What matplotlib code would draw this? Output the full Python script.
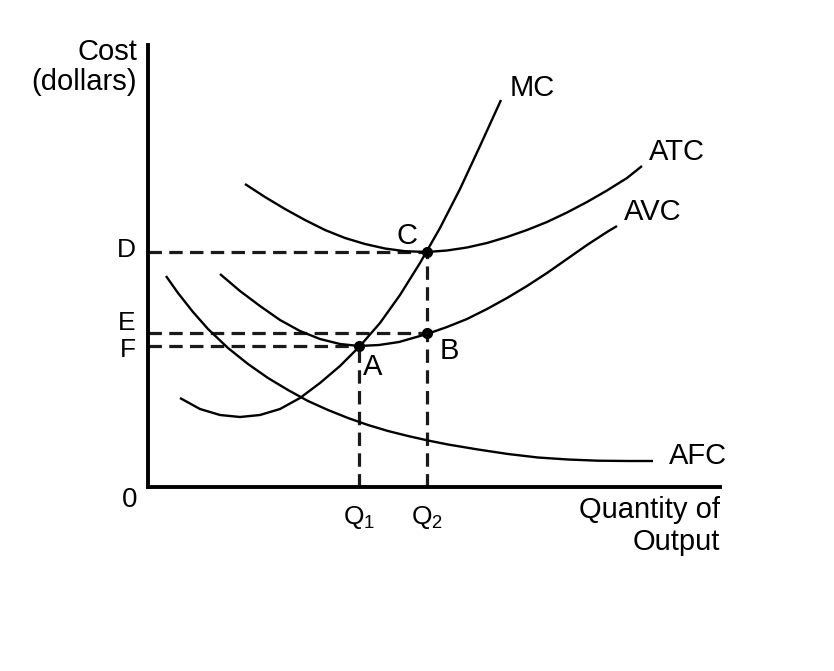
import matplotlib
matplotlib.use('Agg')
import matplotlib.pyplot as plt

plt.rcParams['font.family'] = ['Liberation Sans', 'DejaVu Sans']
plt.rcParams['mathtext.fontset'] = 'custom'
plt.rcParams['mathtext.rm'] = 'Liberation Sans'

# cost curves (x = quantity, y = cost, arbitrary units)
mc_x = [32, 52, 72, 92, 112, 132, 152, 172, 192, 212, 232, 252, 272, 292, 312, 332, 353]
mc_y = [89, 78, 72, 70, 72, 78, 89, 104, 121, 141, 164, 192, 224, 259, 298, 341, 387]

atc_x = [97, 117, 137, 157, 177, 197, 217, 237, 257, 279, 299, 319, 339, 359, 379,
         399, 419, 439, 459, 479, 494]
atc_y = [303, 290, 278, 267, 257, 249, 243, 238.5, 235.8, 235, 236.5, 239.5, 244, 250,
         257, 265, 274.5, 285, 296.5, 309, 321]

avc_x = [72, 92, 112, 132, 152, 172, 192, 211, 231, 251, 279, 299, 319, 339, 359, 379,
         399, 419, 439, 459, 469]
avc_y = [213, 196, 181, 167, 156, 148, 143, 141, 142, 145, 153, 160, 168, 178, 189, 201,
         214, 228, 242, 255, 261]

afc_x = [18, 30, 45, 60, 80, 100, 120, 140, 160, 180, 200, 220, 240, 260, 280, 300, 330,
         360, 390, 420, 450, 480, 505]
afc_y = [211, 194, 175, 158, 139, 123, 109, 97, 86, 77, 69, 62, 56, 51, 46.5, 42.5, 37.5,
         33, 29.5, 27.5, 26.3, 26, 26]

# key points
q1, q2 = 211, 279
cost_d, cost_e, cost_f = 235, 154, 141
pt_names = ['A', 'B', 'C']
pt_x = [q1, q2, q2]
pt_y = [cost_f, cost_e, cost_d]

fs = 21
fs_small = 19

fig = plt.figure(figsize=(8.34, 6.71), dpi=100)
ax = fig.add_axes([148/834, 184/671, 572/834, 442/671])
ax.set_xlim(0, 572)
ax.set_ylim(0, 442)
for s in ['top', 'right']:
    ax.spines[s].set_visible(False)
for s in ['left', 'bottom']:
    ax.spines[s].set_linewidth(2.8)
    ax.spines[s].set_capstyle('projecting')

# dashed guide lines
dash = dict(color='#1a1a1a', lw=2.3, linestyle=(0, (4.2, 2.3)), zorder=1)
ax.plot([0, q2], [cost_d, cost_d], **dash)
ax.plot([0, q2], [cost_e, cost_e], **dash)
ax.plot([0, q1], [cost_f, cost_f], **dash)
ax.plot([q1, q1], [0, cost_f], **dash)
ax.plot([q2, q2], [0, cost_d], **dash)

# curves
for xs, ys in [(mc_x, mc_y), (atc_x, atc_y), (avc_x, avc_y), (afc_x, afc_y)]:
    ax.plot(xs, ys, color='black', lw=1.7, solid_capstyle='butt',
            solid_joinstyle='round', zorder=2)

ax.plot(pt_x, pt_y, 'o', color='black', ms=7, zorder=3)

# curve labels
ax.text(mc_x[-1] + 9, mc_y[-1] + 12, 'MC', fontsize=fs, ha='left', va='center')
ax.text(atc_x[-1] + 7, atc_y[-1] + 14, 'ATC', fontsize=fs, ha='left', va='center')
ax.text(avc_x[-1] + 7, avc_y[-1] + 14, 'AVC', fontsize=fs, ha='left', va='center')
ax.text(afc_x[-1] + 16, afc_y[-1] + 5, 'AFC', fontsize=fs, ha='left', va='center')

# point labels
ax.text(pt_x[0] + 14, pt_y[0] - 21, pt_names[0], fontsize=fs, ha='center', va='center')
ax.text(pt_x[1] + 22, pt_y[1] - 18, pt_names[1], fontsize=fs, ha='center', va='center')
ax.text(pt_x[2] - 20, pt_y[2] + 16, pt_names[2], fontsize=fs, ha='center', va='center')

# cost levels on the vertical axis
ax.text(-12, cost_d + 2, 'D', fontsize=fs_small, ha='right', va='center')
ax.text(-12, cost_e + 10, 'E', fontsize=fs_small, ha='right', va='center')
ax.text(-12, cost_f - 4, 'F', fontsize=fs_small, ha='right', va='center')

ax.set_xticks([q1, q2])
ax.set_xticklabels([r'Q$_\mathregular{1}$', r'Q$_\mathregular{2}$'], fontsize=fs_small)
ax.set_yticks([])
ax.tick_params(axis='both', length=0)
ax.tick_params(axis='x', pad=12)

ax.text(-18, -13, '0', fontsize=fs_small + 1, ha='center', va='center')

fig.text(137/834, 1 - 67/671, 'Cost\n(dollars)', fontsize=fs, ha='right', va='center',
         multialignment='right', linespacing=1.1)
fig.text(720/834, 1 - 526/671, 'Quantity of\nOutput', fontsize=fs, ha='right', va='center',
         multialignment='right', linespacing=1.2)

fig.savefig('out.png', dpi=100)
